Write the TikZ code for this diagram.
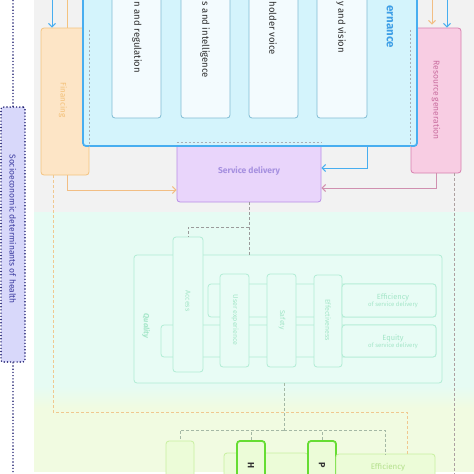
\documentclass[tikz,border=0pt]{standalone}
\usepackage{fontspec}
\setmainfont{Fira Sans}
\usetikzlibrary{arrows.meta,calc}
\definecolor{pgray}{HTML}{F2F2F2}
\definecolor{pmint}{HTML}{E6FBF3}
\definecolor{pyel}{HTML}{F1FBE1}
\definecolor{govfill}{HTML}{D4F4FC}
\definecolor{govline}{HTML}{48AEF0}
\definecolor{govtext}{HTML}{3D9EE6}
\definecolor{inner}{HTML}{F3FBFE}
\definecolor{innerline}{HTML}{80BCD4}
\definecolor{finfill}{HTML}{FDE5C6}
\definecolor{finline}{HTML}{F4C37F}
\definecolor{fintext}{HTML}{F3C078}
\definecolor{resfill}{HTML}{F8CDE3}
\definecolor{resline}{HTML}{D77FAE}
\definecolor{restext}{HTML}{C96D9F}
\definecolor{svcfill}{HTML}{E9D5FB}
\definecolor{svcline}{HTML}{B98EE6}
\definecolor{svctext}{HTML}{A690E0}
\definecolor{socfill}{HTML}{D8D8FA}
\definecolor{navy}{HTML}{1A1A6E}
\definecolor{soctext}{HTML}{3C3CA0}
\definecolor{qfill}{HTML}{E8FCF5}
\definecolor{qline}{HTML}{B0ECD4}
\definecolor{qtext}{HTML}{A4E6C8}
\definecolor{bfill}{HTML}{ECFCD8}
\definecolor{bline}{HTML}{C8F0A0}
\definecolor{bgreen}{HTML}{66DD33}
\definecolor{btext}{HTML}{B4E08C}
\definecolor{orarr}{HTML}{F2BE84}
\definecolor{pinkarr}{HTML}{D090B0}
\definecolor{dgray}{HTML}{9A9A9A}
\definecolor{ggray}{HTML}{A5B8A5}
\definecolor{odash}{HTML}{F0C890}
\definecolor{hidden}{HTML}{A8B0B8}
\begin{document}
\begin{tikzpicture}[x=1pt,y=-1pt,
  box/.style={draw, rounded corners=3pt, inner sep=0pt, line width=0.8pt},
  govbox/.style={box, fill=govfill, draw=govline, line width=1.8pt},
  innerbox/.style={box, fill=inner, draw=innerline, minimum width=49pt, minimum height=148pt},
  finbox/.style={box, fill=finfill, draw=finline},
  resbox/.style={box, fill=resfill, draw=resline},
  svcbox/.style={box, fill=svcfill, draw=svcline},
  qbox/.style={box, fill=qfill, draw=qline},
  bbox/.style={box, fill=bfill, draw=bline},
  hbox/.style={box, fill=bfill, draw=bgreen, line width=1.8pt},
  rot/.style={rotate=-90, inner sep=0pt},
  gtext/.style={rot, anchor=east, text=black!82, font=\fontsize{9.5}{10}\selectfont},
  arr/.style={line width=1pt, -{Straight Barb[length=3.5pt,width=7pt]}},
  dline/.style={line width=0.9pt, dash pattern=on 3pt off 2pt},
  hid/.style={draw=hidden, line width=0.7pt, dash pattern=on 2pt off 2pt},
  dotnavy/.style={draw=navy, line width=1.6pt, dash pattern=on 0pt off 3.2pt, line cap=round}
]
\useasboundingbox (0,0) rectangle (474,474);
\clip (0,0) rectangle (474,474);
% panels
\fill[pgray] (34,-5) rectangle (480,212);
\fill[pmint] (34,212) rectangle (480,386);
\shade[top color=pmint, bottom color=pyel] (34,386) rectangle (480,408);
\fill[pyel] (34,408) rectangle (480,472);

% socioeconomic
\node[box, rounded corners=2pt, fill=socfill, dotnavy, minimum width=24pt, minimum height=255pt] (soc) at (13,234.5) {};
\node[rot, text=soctext, font=\fontsize{8.5}{10}\selectfont] (soct) at (13,229) {Socioeconomic determinants of health};
\coordinate (soctop) at (13,-5);
\coordinate (socbot) at (13,480);
\draw[dotnavy] (soc.north) -- (soctop);
\draw[dotnavy] (soc.south) -- (socbot);

% boxes behind governance
\node[finbox, minimum width=48pt, minimum height=147pt] (fin) at (65,101.5) {};
\node[resbox, minimum width=50pt, minimum height=145pt] (res) at (436,100.5) {};
\node[svcbox, minimum width=144pt, minimum height=61pt] (svc) at (249,171.5) {};
\node[rot, text=fintext, font=\fontsize{8}{10}\selectfont] (fint) at (63,100) {Financing};
\node[rot, text=restext, font=\fontsize{8.5}{10}\selectfont] (rest) at (436,100) {Resource generation};
\node[text=svctext, font=\bfseries\fontsize{8.5}{10}\selectfont] (svct) at (249,171) {Service delivery};

% governance
\node[govbox, minimum width=334pt, minimum height=176pt] (gov) at (250,58) {};
\draw[hid] ([yshift=-2pt]fin.north east) -- (fin.north east |- gov.south);
\draw[hid] ([yshift=-2pt]res.north west) -- (res.north west |- gov.south);
\draw[hid] ([yshift=-2pt]svc.north west) -- ([yshift=-2pt]svc.north east);
\node[innerbox] (g1) at (136.5,44) {};
\node[innerbox] (g2) at (205.5,44) {};
\node[innerbox] (g3) at (273.5,44) {};
\node[innerbox, minimum width=50pt] (g4) at (342,44) {};
\node[gtext] (g1t) at (137,73) {n and regulation};
\node[gtext] (g2t) at (205,78) {s and intelligence};
\node[gtext] (g3t) at (273,55) {holder voice};
\node[gtext] (g4t) at (341,53) {y and vision};
\node[rot, anchor=east, text=govtext, font=\bfseries\fontsize{11.5}{12}\selectfont] (govt) at (390,48) {ernance};

% top arrows
\coordinate (tl1) at (52,-5);
\coordinate (tl2) at (67,-5);
\coordinate (tr1) at (432,-5);
\coordinate (tr2) at (447,-5);
\draw[arr, draw=govline] (tl1) -- (tl1 |- fin.north);
\draw[line width=1pt, draw=finline] (tl2 |- fin.north) -- (tl2);
\draw[arr, draw=orarr] (tr1) -- ([yshift=3pt]tr1 |- res.north);
\draw[arr, draw=govline] (tr2) -- (tr2 |- res.north);

% into service delivery
\draw[arr, draw=orarr] ([xshift=2pt]fin.south) |- ([yshift=-18.5pt]svc.west);
\draw[arr, draw=govline] ([xshift=117pt]gov.south) |- ([yshift=3.5pt]svc.east);
\draw[arr, draw=pinkarr] (res.south) |- ([yshift=-16.5pt]svc.east);

% quality group
\node[qbox, minimum width=308pt, minimum height=128pt] (qual) at (288,319) {};
\node[qbox, minimum width=228pt, minimum height=33pt] (effbar) at (322,300.5) {};
\node[qbox, minimum width=275pt, minimum height=32pt] (eqbar) at (298.5,341) {};
\node[qbox, minimum width=30pt, minimum height=135pt] (access) at (188,304.5) {};
\node[qbox, minimum width=29pt, minimum height=93pt] (ux) at (234.5,320.5) {};
\node[qbox, minimum width=29pt, minimum height=93pt] (safety) at (281.5,320.5) {};
\node[qbox, minimum width=28pt, minimum height=92pt] (effect) at (328,321) {};
\node[qbox, minimum width=94pt, minimum height=33pt] (effbox) at (389,300.5) {};
\node[qbox, minimum width=94pt, minimum height=32pt] (eqbox) at (389,341) {};
\node[rot, text=qtext, font=\bfseries\itshape\fontsize{7.5}{9}\selectfont] (qualt) at (146,326) {Quality};
\node[rot, text=qtext, font=\fontsize{7}{8}\selectfont] (accesst) at (188,301) {Access};
\node[rot, text=qtext, font=\fontsize{7}{8}\selectfont] (uxt) at (235,320) {User experience};
\node[rot, text=qtext, font=\fontsize{7}{8}\selectfont] (safetyt) at (282,320) {Safety};
\node[rot, text=qtext, font=\fontsize{7}{8}\selectfont] (effectt) at (328,320) {Effectiveness};
\node[text=qtext, align=center, inner sep=0pt, font=\fontsize{7.5}{8}\selectfont] (efft) at (393,300.5) {Efficiency\\[-1pt]{\fontsize{6}{7}\selectfont of service delivery}};
\node[text=qtext, align=center, inner sep=0pt, font=\fontsize{7.5}{8}\selectfont] (eqt) at (393,342) {Equity\\[-1pt]{\fontsize{6}{7}\selectfont of service delivery}};

% bottom group
\node[bbox, minimum width=84pt, minimum height=40pt] (bwide) at (266,473) {};
\node[bbox, minimum width=28pt, minimum height=49pt] (b1) at (180,465.5) {};
\node[hbox, minimum width=28pt, minimum height=49pt] (H) at (251,465.5) {};
\node[hbox, minimum width=28pt, minimum height=49pt] (P) at (322,465.5) {};
\node[bbox, minimum width=99pt, minimum height=40pt] (beff) at (385.5,474) {};
\node[rot, anchor=west, text=black!80, font=\bfseries\fontsize{9}{10}\selectfont] (Ht) at (251,462) {H};
\node[rot, anchor=west, text=black!80, font=\bfseries\fontsize{9}{10}\selectfont] (Pt) at (322,462) {P};
\node[text=btext, inner sep=0pt, font=\fontsize{8}{9}\selectfont] (befft) at (388,467) {Efficiency};

% dashed connectors
\coordinate (sv1) at ($(svc.south)+(0,25)$);
\draw[dline, draw=dgray] (svc.south) -- (svc.south |- qual.north);
\draw[dline, draw=dgray] (sv1) -| (access.north);
\coordinate (q1) at (284,430);
\draw[dline, draw=ggray] (q1 |- qual.south) -- (q1);
\draw[dline, draw=ggray] (q1) -| (b1.north);
\draw[dline, draw=ggray] (q1) -| (H.north);
\draw[dline, draw=ggray] (q1) -| (P.north);
\draw[dline, draw=ggray] (q1) -| (beff.north);
\draw[dline, draw=odash] ([xshift=-12pt]fin.south) -- ++(0,237) -| ([xshift=21.5pt]beff.north);
\draw[dline, draw=dgray!80!pink] ([xshift=18pt]res.south) |- (beff.east);
\end{tikzpicture}
\end{document}
